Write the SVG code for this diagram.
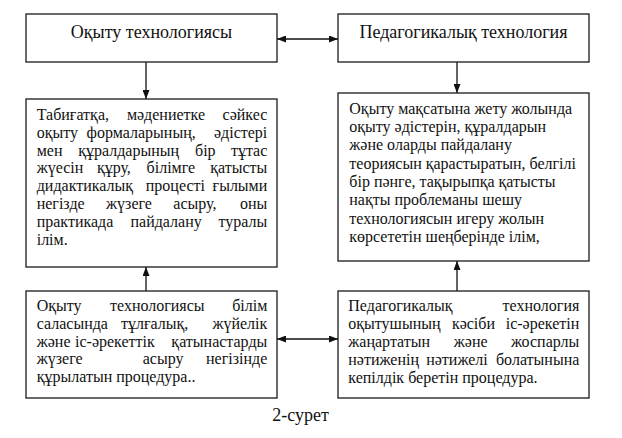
<svg xmlns="http://www.w3.org/2000/svg" width="622" height="438" viewBox="0 0 622 438">
<style>
.box{fill:#fff;stroke:#1a1a1a;stroke-width:1.3}
.t{font-family:"Liberation Serif","Times New Roman",serif;font-size:16px;fill:#111}
.h{font-family:"Liberation Serif","Times New Roman",serif;font-size:18px;fill:#111;text-anchor:middle}
.e{text-anchor:end}
.c{stroke:#111;stroke-width:1.3;fill:none}
</style>
<defs>
<marker id="ah" viewBox="0 0 9 7" refX="9" refY="3.5" markerWidth="9" markerHeight="7" markerUnits="userSpaceOnUse" orient="auto-start-reverse">
<path d="M0,0 L9,3.5 L0,7 z" fill="#111"/>
</marker>
</defs>
<rect width="622" height="438" fill="#fff"/>
<g id="connectors">
<line class="c" x1="277" y1="39" x2="338" y2="39" marker-start="url(#ah)" marker-end="url(#ah)"/>
<line class="c" x1="146" y1="62" x2="146" y2="99" marker-end="url(#ah)"/>
<line class="c" x1="457" y1="62" x2="457" y2="93" marker-end="url(#ah)"/>
<line class="c" x1="146" y1="291" x2="146" y2="267" marker-end="url(#ah)"/>
<line class="c" x1="457" y1="291" x2="457" y2="261" marker-end="url(#ah)"/>
<line class="c" x1="277" y1="339" x2="338" y2="339" marker-start="url(#ah)" marker-end="url(#ah)"/>
</g>
<g id="n1">
<rect class="box" x="26" y="14" width="251" height="48"/>
<text class="h" x="151.5" y="38">Оқыту технологиясы</text>
</g>
<g id="n2">
<rect class="box" x="338" y="14" width="251" height="48"/>
<text class="h" x="463.5" y="38">Педагогикалық технология</text>
</g>
<g id="n3">
<rect class="box" x="26" y="99" width="251" height="168"/>
<text class="t" y="120"><tspan x="36.7">Табиғатқа,</tspan><tspan x="126.9">мәдениетке</tspan><tspan x="267.3" class="e">сәйкес</tspan></text>
<text class="t" y="137.8"><tspan x="36.7">оқыту</tspan><tspan x="86.6">формаларының,</tspan><tspan x="267.3" class="e">әдістері</tspan></text>
<text class="t" y="155.6"><tspan x="36.7">мен</tspan><tspan x="78.2">құралдарының</tspan><tspan x="195">бір</tspan><tspan x="267.3" class="e">тұтас</tspan></text>
<text class="t" y="173.4"><tspan x="36.7">жүесін</tspan><tspan x="96.9">құру,</tspan><tspan x="146.6">білімге</tspan><tspan x="267.3" class="e">қатысты</tspan></text>
<text class="t" y="191.2"><tspan x="36.7">дидактикалық</tspan><tspan x="145.8">процесті</tspan><tspan x="267.3" class="e">ғылыми</tspan></text>
<text class="t" y="209"><tspan x="36.7">негізде</tspan><tspan x="106">жүзеге</tspan><tspan x="173.3">асыру,</tspan><tspan x="267.3" class="e">оны</tspan></text>
<text class="t" y="226.8"><tspan x="36.7">практикада</tspan><tspan x="130.5">пайдалану</tspan><tspan x="267.3" class="e">туралы</tspan></text>
<text class="t" x="36.7" y="244.6">ілім.</text>
</g>
<g id="n4">
<rect class="box" x="338" y="93" width="251" height="168"/>
<text class="t" x="349.3" y="113.7">Оқыту мақсатына жету жолында</text>
<text class="t" x="349.3" y="132">оқыту әдістерін, құралдарын</text>
<text class="t" x="349.3" y="150.3">және оларды пайдалану</text>
<text class="t" x="349.3" y="168.6">теориясын қарастыратын, белгілі</text>
<text class="t" x="349.3" y="186.9">бір пәнге, тақырыпқа қатысты</text>
<text class="t" x="349.3" y="205.2">нақты проблеманы шешу</text>
<text class="t" x="349.3" y="223.5">технологиясын игеру жолын</text>
<text class="t" x="349.3" y="241.8">көрсететін шеңберінде ілім,</text>
</g>
<g id="n5">
<rect class="box" x="26" y="291" width="251" height="107"/>
<text class="t" y="311.3"><tspan x="36.7">Оқыту</tspan><tspan x="110">технологиясы</tspan><tspan x="267.3" class="e">білім</tspan></text>
<text class="t" y="328.9"><tspan x="36.7">саласында</tspan><tspan x="121">тұлғалық,</tspan><tspan x="267.3" class="e">жүйелік</tspan></text>
<text class="t" y="346.5"><tspan x="36.7">және</tspan><tspan x="75">іс-әрекеттік</tspan><tspan x="267.3" class="e">қатынастарды</tspan></text>
<text class="t" y="364.1"><tspan x="36.7">жүзеге</tspan><tspan x="142.7">асыру</tspan><tspan x="267.3" class="e">негізінде</tspan></text>
<text class="t" x="36.7" y="381.7">құрылатын процедура..</text>
</g>
<g id="n6">
<rect class="box" x="338" y="291" width="251" height="107"/>
<text class="t" y="310.9"><tspan x="348.3">Педагогикалық</tspan><tspan x="579.3" class="e">технология</tspan></text>
<text class="t" y="328.8"><tspan x="348.3">оқытушының</tspan><tspan x="451.9">кәсіби</tspan><tspan x="579.3" class="e">іс-әрекетін</tspan></text>
<text class="t" y="346.7"><tspan x="348.3">жаңартатын</tspan><tspan x="453.8">және</tspan><tspan x="579.3" class="e">жоспарлы</tspan></text>
<text class="t" y="364.6"><tspan x="348.3">нәтиженің</tspan><tspan x="426.2">нәтижелі</tspan><tspan x="579.3" class="e">болатынына</tspan></text>
<text class="t" x="348.3" y="382.5">кепілдік беретін процедура.</text>
</g>
<text id="caption" class="h" x="300.5" y="421">2-сурет</text>
</svg>
